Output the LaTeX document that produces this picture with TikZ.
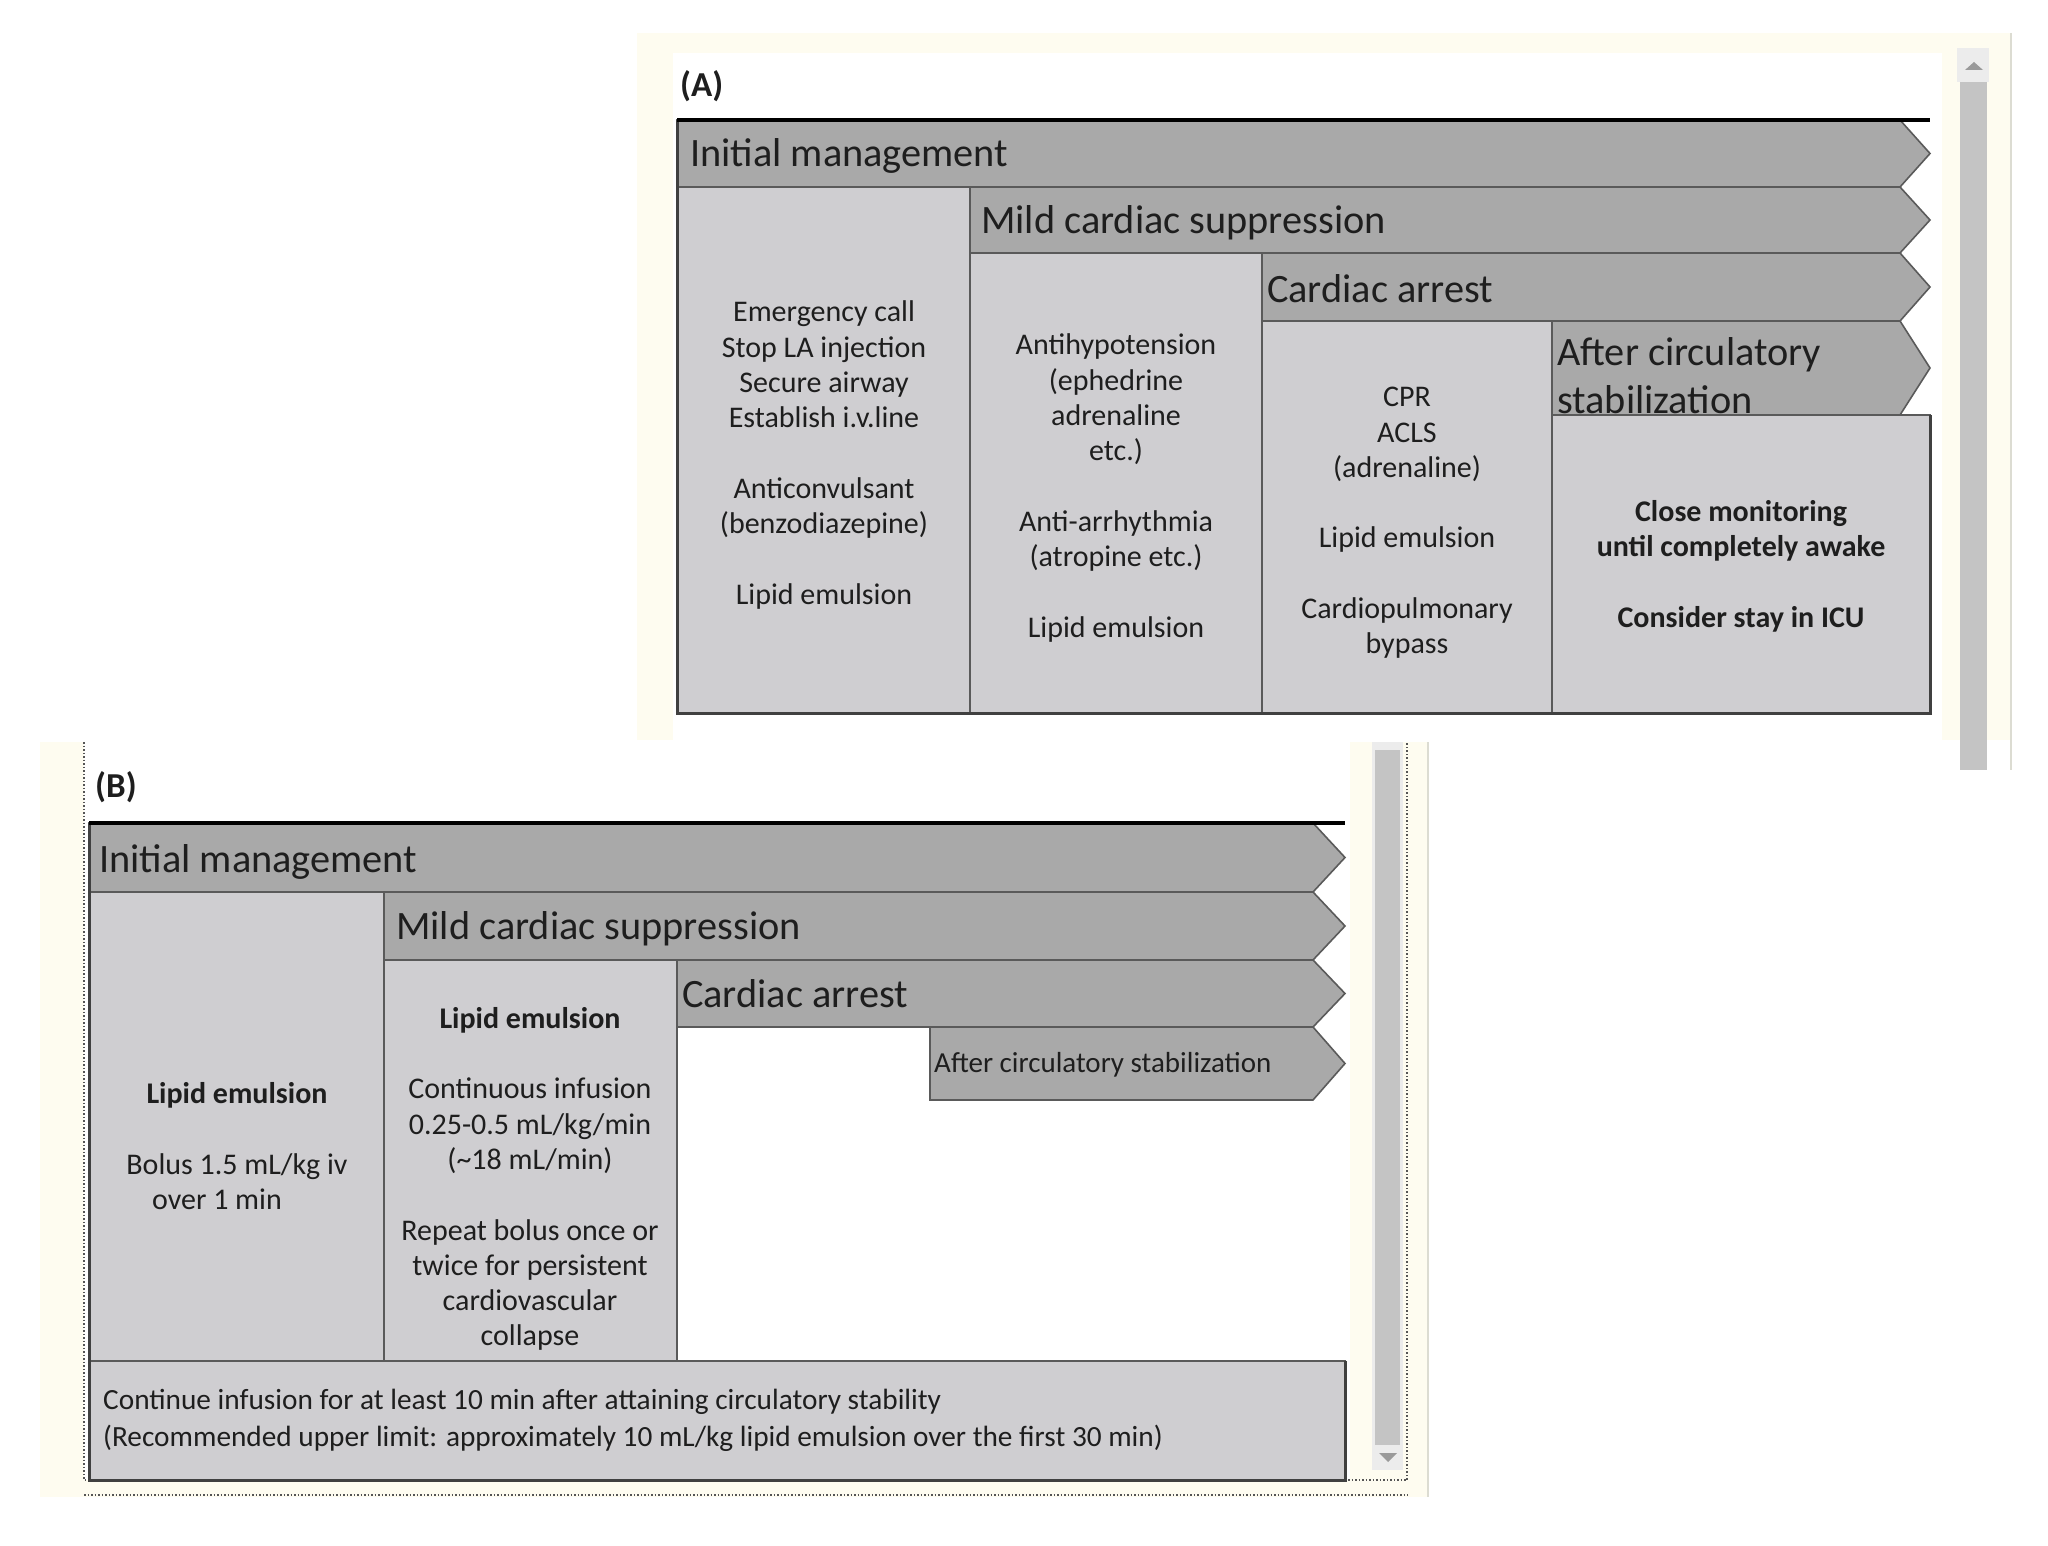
\documentclass[tikz,border=0pt]{standalone}
\usepackage{fontspec}
\setmainfont{Carlito}
\definecolor{cream}{HTML}{FEFCF0}
\definecolor{panelline}{HTML}{DCDCD2}
\definecolor{barfill}{HTML}{A9A9A9}
\definecolor{boxfill}{HTML}{CFCED1}
\definecolor{edgegray}{HTML}{5A5A5A}
\definecolor{framegray}{HTML}{404040}
\definecolor{txt}{HTML}{1E1E1E}
\definecolor{scrolllight}{HTML}{ECECEC}
\definecolor{scrollbarc}{HTML}{C4C4C4}
\definecolor{arrowgray}{HTML}{9A9A9A}
\definecolor{dotgray}{HTML}{555555}
\tikzset{
  bar/.style={fill=barfill, draw=edgegray, line width=1.6pt, line join=miter},
  colbox/.style={fill=boxfill, draw=edgegray, line width=1.6pt},
  frameline/.style={draw=framegray, line width=3pt, line join=miter},
  topline/.style={draw=black, line width=3.2pt},
  hdr/.style={anchor=base west, inner sep=0pt, text=txt, font=\fontsize{40.3}{48}\selectfont},
  lbl/.style={anchor=base west, inner sep=0pt, text=txt, font=\fontsize{35}{40}\selectfont\bfseries},
  coltext/.style={align=center, inner sep=0pt, text=txt, font=\fontsize{30}{35.3}\selectfont},
  coltextb/.style={coltext, font=\fontsize{30}{35.3}\selectfont\bfseries},
  smalltext/.style={anchor=base west, inner sep=0pt, text=txt, font=\fontsize{29}{35}\selectfont},
  bottomtext/.style={anchor=base west, inner sep=0pt, text=txt, font=\fontsize{29.3}{37}\selectfont},
  dotline/.style={draw=dotgray, line width=1.5pt, dotted}
}
\newcommand{\chevbar}[5]{\draw[bar] (#1,#2) -- (#4,#2) -- (#5,{(#2+#3)/2}) -- (#4,#3) -- (#1,#3) -- cycle;}
\begin{document}
\begin{tikzpicture}[x=1pt,y=-1pt]
\useasboundingbox (0,0) rectangle (2048,1546);
\fill[white] (0,0) rectangle (2048,1546);
% ---------------- panel A background
\fill[cream] (637,33) rectangle (2010,740);
\fill[white] (673,53) rectangle (1942,740);
\draw[panelline, line width=2pt] (2011,33) -- (2011,770);
\fill[scrolllight] (1957,48) rectangle (1989,82);
\fill[scrollbarc] (1960,82) rectangle (1987,770);
\fill[arrowgray] (1965,70) -- (1983,70) -- (1974,62) -- cycle;
% ---------------- panel B background
\fill[white] (0,740) rectangle (1440,1546);
\fill[cream] (40,742) rectangle (1427,1497);
\fill[white] (84,742) rectangle (1350,1480);
\draw[panelline, line width=2pt] (1428,742) -- (1428,1497);
\fill[scrolllight] (1372,742) rectangle (1403,1470);
\fill[scrollbarc] (1375,750) rectangle (1400,1445);
\fill[arrowgray] (1379,1453) -- (1397,1453) -- (1388,1462) -- cycle;
\draw[dotline] (84,742) -- (84,1480) -- (1407,1480) -- (1407,742);
\draw[dotline] (84,1495) -- (1408,1495);
% ---------------- panel A diagram
\draw[colbox] (677,187) rectangle (970,713);
\draw[colbox] (970,253) rectangle (1262,713);
\draw[colbox] (1262,321) rectangle (1552,713);
\draw[colbox] (1552,415) rectangle (1930,713);
\chevbar{677}{120}{187}{1900}{1930}
\chevbar{970}{187}{253}{1900}{1930}
\chevbar{1262}{253}{321}{1900}{1930}
\chevbar{1552}{321}{415}{1900}{1930}
\draw[frameline] (677,120) -- (677,713) -- (1930,713) -- (1930,415);
\draw[topline] (677,120) -- (1930,120);
\node[lbl] (labA) at (680,97) {(A)};
\node[hdr] (aInit) at (690,167) {Initial management};
\node[hdr] (aMild) at (981,234) {Mild cardiac suppression};
\node[hdr] (aArrest) at (1267,302) {Cardiac arrest};
\node[hdr] (aAfterOne) at (1557,365) {After circulatory};
\node[hdr] (aAfterTwo) at (1557,413) {stabilization};
\node[coltext] (aColOne) at (824,455) {Emergency call\\Stop LA injection\\Secure airway\\Establish i.v.line\\[35.3pt]Anticonvulsant\\(benzodiazepine)\\[35.3pt]Lipid emulsion};
\node[coltext] (aColTwo) at (1116,488) {Antihypotension\\(ephedrine\\adrenaline\\etc.)\\[35.3pt]Anti-arrhythmia\\(atropine etc.)\\[35.3pt]Lipid emulsion};
\node[coltext] (aColThree) at (1407,523) {CPR\\ACLS\\(adrenaline)\\[35.3pt]Lipid emulsion\\[35.3pt]Cardiopulmonary\\bypass};
\node[coltextb] (aColFour) at (1741,566) {Close monitoring\\until completely awake\\[35.3pt]Consider stay in ICU};
% ---------------- panel B diagram
\draw[colbox] (89,892) rectangle (384,1361);
\draw[colbox] (384,960) rectangle (677,1361);
\draw[colbox] (89,1361) rectangle (1345,1480);
\chevbar{89}{823}{892}{1313}{1345}
\chevbar{384}{892}{960}{1313}{1345}
\chevbar{677}{960}{1027}{1313}{1345}
\chevbar{930}{1027}{1100}{1313}{1345}
\draw[frameline] (89,823) -- (89,1480) -- (1345,1480) -- (1345,1361);
\draw[topline] (89,823) -- (1345,823);
\node[lbl] (labB) at (95,797) {(B)};
\node[hdr] (bInit) at (99,872) {Initial management};
\node[hdr] (bMild) at (396,939) {Mild cardiac suppression};
\node[hdr] (bArrest) at (682,1007) {Cardiac arrest};
\node[smalltext] (bAfter) at (934,1072) {After circulatory stabilization};
\node[coltext] (bColOne) at (237,1146) {\textbf{Lipid emulsion}\\[35.3pt]Bolus 1.5 mL/kg iv\\over 1 min\hspace*{40pt}};
\node[coltext] (bColTwo) at (530,1179) {\textbf{Lipid emulsion}\\[35.3pt]Continuous infusion\\0.25-0.5 mL/kg/min\\(\textasciitilde18 mL/min)\\[35.3pt]Repeat bolus once or\\twice for persistent\\cardiovascular\\collapse};
\node[bottomtext] (bNoteOne) at (103,1409) {Continue infusion for at least 10 min after attaining circulatory stability};
\node[bottomtext] (bNoteTwo) at (103,1446) {(Recommended upper limit: approximately 10 mL/kg lipid emulsion over the first 30 min)};
\end{tikzpicture}
\end{document}
